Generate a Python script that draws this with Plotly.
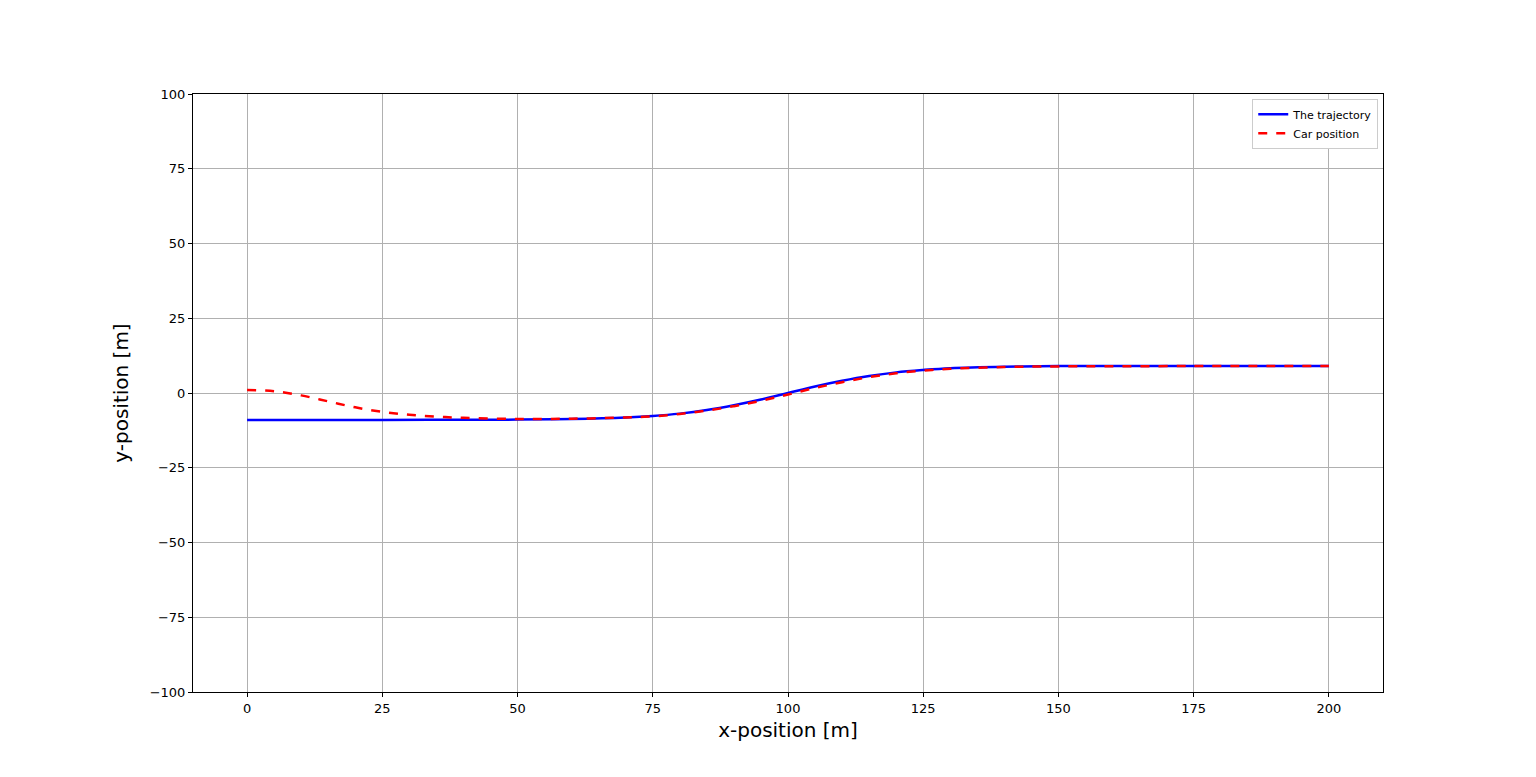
import plotly.graph_objects as go

# reference trajectory
traj_x = [0, 25, 50, 60, 70, 75, 80, 85, 90, 95, 100, 105, 110, 115, 120, 125, 130, 140, 150, 175, 200]
traj_y = [-9, -9, -8.9, -8.7, -8.2, -7.7, -6.9, -5.7, -4.1, -2.2, 0, 2.2, 4.1, 5.7, 6.9, 7.7, 8.3, 8.8, 9, 9, 9]

# simulated car position
car_x = [0, 5, 10, 15, 20, 25, 30, 35, 40, 50, 60, 70, 75, 80, 85, 90, 95, 100,
         105, 110, 115, 120, 125, 130, 140, 150, 175, 200]
car_y = [1, 0.6, -0.8, -2.8, -4.8, -6.3, -7.3, -7.9, -8.3, -8.7, -8.6, -8.2, -7.8, -7.0,
         -5.9, -4.4, -2.6, -0.5, 1.7, 3.6, 5.3, 6.6, 7.5, 8.1, 8.7, 8.9, 9, 9]

fig = go.Figure()
fig.add_trace(go.Scatter(x=traj_x, y=traj_y, mode="lines", name="The trajectory",
                         line=dict(color="blue", width=2.5, shape="spline")))
fig.add_trace(go.Scatter(x=car_x, y=car_y, mode="lines", name="Car position",
                         line=dict(color="red", width=2.5, dash="dash", shape="spline")))

axis = dict(showgrid=True, gridcolor="#b0b0b0", showline=True, linecolor="black", mirror=True,
            ticks="outside", ticklen=4, tickcolor="black", zeroline=False,
            tickfont=dict(family="DejaVu Sans", size=13, color="black"))
fig.update_layout(
    width=1536, height=777,
    plot_bgcolor="white", paper_bgcolor="white",
    margin=dict(l=185, r=161, t=86, b=93),
    xaxis=dict(axis, range=[-10, 210], tickvals=[0, 25, 50, 75, 100, 125, 150, 175, 200],
               title=dict(text="x-position [m]", standoff=8,
                          font=dict(family="DejaVu Sans", size=20, color="black"))),
    yaxis=dict(axis, range=[-100, 100], tickvals=[-100, -75, -50, -25, 0, 25, 50, 75, 100],
               ticktext=["\u2212100", "\u221275", "\u221250", "\u221225", "0", "25", "50", "75", "100"],
               title=dict(text="y-position [m]", font=dict(family="DejaVu Sans", size=20, color="black"))),
    legend=dict(x=0.996, y=0.992, xanchor="right", yanchor="top", bgcolor="white",
                bordercolor="#cccccc", borderwidth=1, font=dict(family="DejaVu Sans", size=11, color="black")),
)
fig.write_html("out.html")
